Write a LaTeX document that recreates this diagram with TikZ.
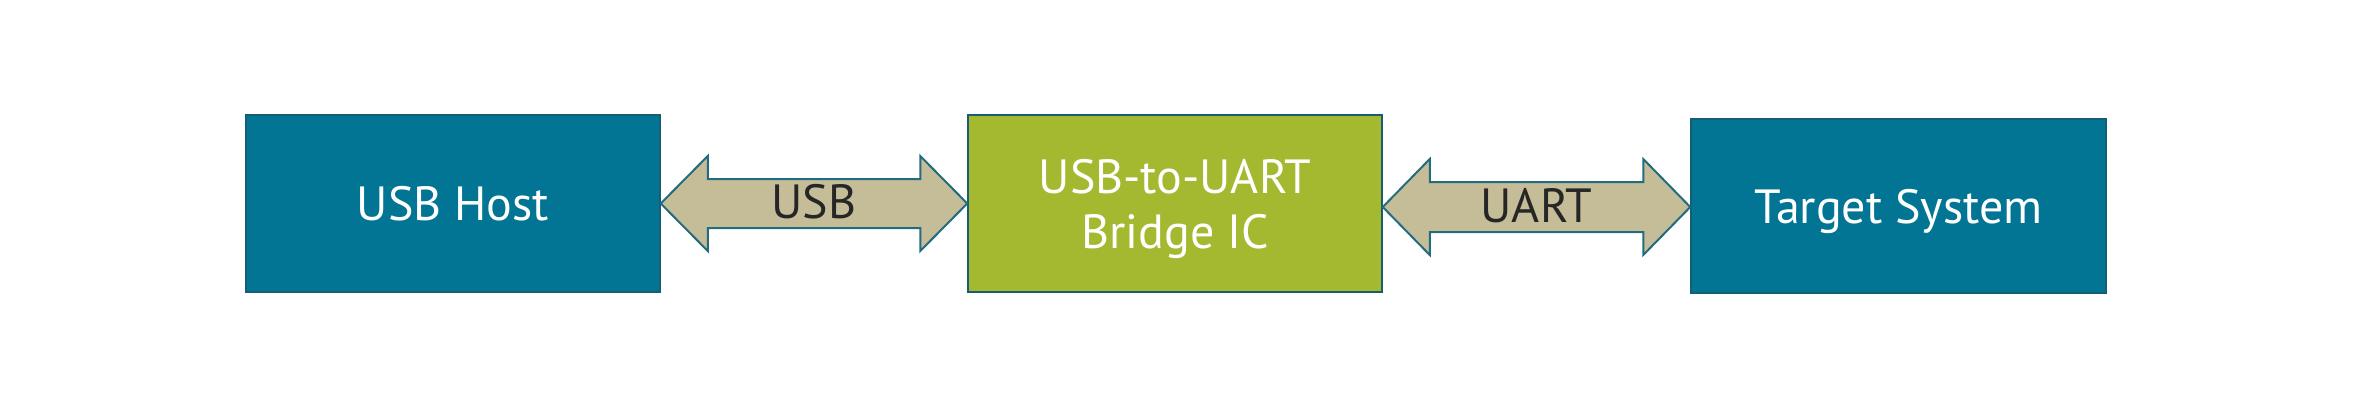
\documentclass[tikz,border=0pt]{standalone}
\usepackage{fontspec}
\setmainfont{PT Sans}
\usetikzlibrary{calc}
\definecolor{boxteal}{RGB}{2,117,148}
\definecolor{boxgreen}{RGB}{164,185,48}
\definecolor{boxline}{RGB}{20,95,115}
\definecolor{arrfill}{RGB}{196,189,151}
\definecolor{arrline}{RGB}{35,108,128}
\definecolor{lbltext}{RGB}{38,38,38}
\begin{document}
\begin{tikzpicture}[x=1pt,y=-1pt,
  blk/.style={draw=boxline, line width=1.5pt, minimum width=414pt, minimum height=177pt,
    inner sep=0pt, text=white, font=\fontsize{48}{55}\selectfont, align=center, text depth=0pt},
  barrow/.style={draw=arrline, line width=2pt, fill=arrfill, line join=miter},
  lbl/.style={text=lbltext, font=\fontsize{48}{55}\selectfont, inner sep=0pt, text depth=0pt}]
\useasboundingbox[fill=white] (0,0) rectangle (2378,416);
\node[blk, fill=boxteal] (host) at (453,203.5) {USB Host};
\node[blk, fill=boxgreen] (bridge) at (1175,203.5) {USB-to-UART\\Bridge IC};
\node[blk, fill=boxteal, minimum width=415pt, minimum height=174pt] (target) at (1898.5,206) {Target System};
% USB double arrow
\coordinate (u1) at (host.east);
\coordinate (u2) at (bridge.west);
\draw[barrow] (u1) -- ++(47,-47.5) -- ++(0,23) -- ($(u2)+(-47,-24.5)$) -- ++(0,-23)
  -- (u2) -- ++(-47,47.5) -- ++(0,-23) -- ($(u1)+(47,24.5)$) -- ++(0,23) -- cycle;
% UART double arrow
\coordinate (a1) at (bridge.east |- 0,207);
\coordinate (a2) at (target.west |- 0,207);
\draw[barrow] (a1) -- ++(47,-48) -- ++(0,23) -- ($(a2)+(-47,-25)$) -- ++(0,-23)
  -- (a2) -- ++(-47,48) -- ++(0,-23) -- ($(a1)+(47,25)$) -- ++(0,23) -- cycle;
\node[lbl] (usb) at ($(u1)!0.5!(u2)+(0,-2)$) {USB};
\node[lbl] (uart) at ($(a1)!0.5!(a2)+(0,-2)$) {UART};
\end{tikzpicture}
\end{document}
